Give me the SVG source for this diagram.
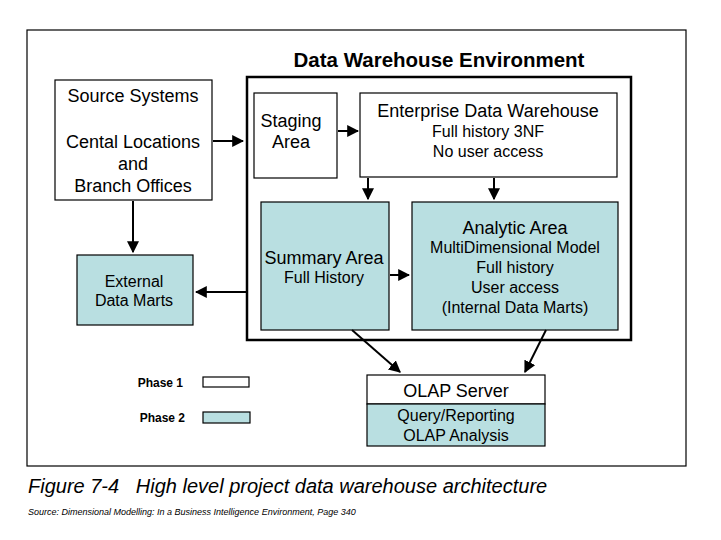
<svg xmlns="http://www.w3.org/2000/svg" width="721" height="540" viewBox="0 0 721 540">
<style>
text{font-family:"Liberation Sans",Arial,sans-serif;fill:#000;text-anchor:middle}
.b{fill:#fff;stroke:#000;stroke-width:1.2}
.t{fill:#b9dfe1;stroke:#000;stroke-width:1.2}
.c line{stroke:#000;stroke-width:2;fill:none;marker-end:url(#a)}
.l{font-size:18px}
.m{font-size:16px}
</style>
<defs><marker id="a" viewBox="0 0 10 10" refX="9" refY="5" markerWidth="6" markerHeight="6" orient="auto" markerUnits="strokeWidth"><path d="M0,0L10,5L0,10z" fill="#000"/></marker></defs>
<rect width="721" height="540" fill="#fff"/>
<rect x="27" y="30" width="659" height="436" fill="none" stroke="#000" stroke-width="1.2"/>
<g id="env"><text x="439" y="67" style="font-size:20.5px;font-weight:bold">Data Warehouse Environment</text>
<rect x="247" y="77" width="384" height="263" fill="none" stroke="#000" stroke-width="2.5"/></g>
<g id="source"><rect class="b" x="55" y="80" width="157" height="120"/>
<text class="l" x="133" y="102">Source Systems</text><text class="l" x="133" y="148">Cental Locations</text><text class="l" x="133" y="170">and</text><text class="l" x="133" y="192">Branch Offices</text></g>
<g id="staging"><rect class="b" x="254" y="93" width="83" height="85"/>
<text class="l" x="291" y="127">Staging</text><text class="l" x="291" y="148">Area</text></g>
<g id="edw"><rect class="b" x="360" y="93" width="257" height="84"/>
<text class="l" x="488" y="117">Enterprise Data Warehouse</text><text class="m" x="488" y="137">Full history 3NF</text><text class="m" x="488" y="157">No user access</text></g>
<g id="summary"><rect class="t" x="261" y="202" width="128" height="128"/>
<text class="l" x="324" y="264">Summary Area</text><text class="m" x="324" y="283">Full History</text></g>
<g id="analytic"><rect class="t" x="412" y="202" width="206" height="128"/>
<text class="l" x="515" y="234">Analytic Area</text><text class="m" x="515" y="253">MultiDimensional Model</text><text class="m" x="515" y="273">Full history</text><text class="m" x="515" y="293">User access</text><text class="m" x="515" y="313">(Internal Data Marts)</text></g>
<g id="external"><rect class="t" x="77" y="255" width="116" height="70"/>
<text class="m" x="134" y="287">External</text><text class="m" x="134" y="306">Data Marts</text></g>
<g id="olap"><rect class="b" x="367" y="375" width="178" height="29"/><rect class="t" x="367" y="404" width="178" height="42"/>
<text class="l" x="456" y="397">OLAP Server</text><text class="m" x="456" y="421">Query/Reporting</text><text class="m" x="456" y="441">OLAP Analysis</text></g>
<g id="legend"><text x="183" y="387" style="font-size:12px;font-weight:bold;text-anchor:end">Phase 1</text><rect class="b" x="203" y="377" width="46" height="10"/>
<text x="185" y="422" style="font-size:12px;font-weight:bold;text-anchor:end">Phase 2</text><rect class="t" x="203" y="412" width="47" height="11"/></g>
<g class="c">
<line x1="213" y1="141" x2="243" y2="141"/>
<line x1="338" y1="131" x2="358" y2="131"/>
<line x1="368" y1="178" x2="368" y2="199"/>
<line x1="494" y1="178" x2="494" y2="199"/>
<line x1="133" y1="201" x2="133" y2="252"/>
<line x1="246" y1="292" x2="196" y2="292"/>
<line x1="390" y1="275" x2="409" y2="275"/>
<line x1="352" y1="330" x2="400" y2="372"/>
<line x1="546" y1="330" x2="525" y2="372"/>
</g>
<text x="28" y="493" xml:space="preserve" style="font-size:20px;font-style:italic;text-anchor:start">Figure 7-4   High level project data warehouse architecture</text>
<text x="28" y="515" style="font-size:9px;font-style:italic;text-anchor:start">Source: Dimensional Modelling: In a Business Intelligence Environment, Page 340</text>
</svg>
